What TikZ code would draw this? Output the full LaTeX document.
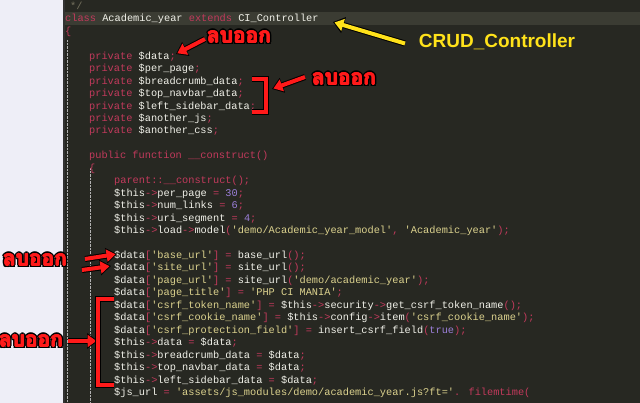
\documentclass[tikz,border=0pt]{standalone}
\usepackage{fontspec}
\usetikzlibrary{arrows.meta,calc}
\newfontfamily\codef{Liberation Mono}
\newfontfamily\thaif[Script=Thai]{Loma}
\newfontfamily\labf{Liberation Sans}
\definecolor{bgc}{HTML}{272822}
\definecolor{kw}{HTML}{C23A5C}
\definecolor{st}{HTML}{DCD28E}
\definecolor{nu}{HTML}{9B7FD9}
\definecolor{tx}{HTML}{F2F2EA}
\definecolor{cm}{HTML}{75715E}
\definecolor{annred}{HTML}{FF1A1A}
\definecolor{annyel}{HTML}{FFE21A}
\definecolor{panel}{HTML}{EEEEF7}
\definecolor{hl}{HTML}{3B3C33}
\newcommand\K[1]{\textcolor{kw}{#1}}
\newcommand\St[1]{\textcolor{st}{#1}}
\newcommand\Nm[1]{\textcolor{nu}{#1}}
\tikzset{
 code/.style={anchor=base west,inner sep=0pt,font=\codef\fontsize{10.3}{12}\selectfont,text=tx},
 tlab/.style={inner sep=0pt,font=\thaif\bfseries\fontsize{21}{22}\selectfont},
 redarr/.style={line width=4pt,annred,-{Triangle[length=9pt,width=12pt]}},
 blkarr/.style={line width=6pt,black,-{Triangle[length=11pt,width=15pt]}},
}
\newcommand\outlined[4]{% pos, name, colour, text
 \foreach \dx/\dy in {-2/0,2/0,0/-2,0/2,-1.5/-1.5,1.5/1.5,-1.5/1.5,1.5/-1.5}
   \node[tlab,text=black] at ($#1+(\dx,\dy)$) {#4};
 \foreach \dx/\dy in {-0.6/0,0.6/0,0/-0.6,0/0.6}
   \node[tlab,text=#3] at ($#1+(\dx,\dy)$) {#4};
 \node[tlab,text=#3] (#2) at #1 {#4};}
\begin{document}
\begin{tikzpicture}[x=1pt,y=-1pt]
\useasboundingbox (0,0) rectangle (640,403);
\fill[bgc] (0,0) rectangle (640,403);
\fill[panel] (0,0) rectangle (64,403);
\fill[black!80] (63,0) rectangle (65,403);
\fill[hl] (65,12) rectangle (640,25);
\draw[gray!60,densely dotted] (90,168) -- (90,403);
\draw[gray!60,densely dotted] (67,40) -- (67,403);
\def\L#1#2#3{\node[code] at (#1,{9.5+12.45*#2}) {#3};}
\L{70}{0}{\textcolor{cm}{*/}}
\L{65}{1}{\K{class} Academic\_year \K{extends} CI\_Controller}
\L{65}{2}{\K{\{}}
\L{89}{4}{\K{private} \$data\K{;}}
\L{89}{5}{\K{private} \$per\_page\K{;}}
\L{89}{6}{\K{private} \$breadcrumb\_data\K{;}}
\L{89}{7}{\K{private} \$top\_navbar\_data\K{;}}
\L{89}{8}{\K{private} \$left\_sidebar\_data\K{;}}
\L{89}{9}{\K{private} \$another\_js\K{;}}
\L{89}{10}{\K{private} \$another\_css\K{;}}
\L{89}{12}{\K{public function \_\_construct()}}
\L{89}{13}{\K{\{}}
\L{114}{14}{\K{parent::\_\_construct();}}
\L{114}{15}{\$this\K{->}per\_page \K{=} \Nm{30}\K{;}}
\L{114}{16}{\$this\K{->}num\_links \K{=} \Nm{6}\K{;}}
\L{114}{17}{\$this\K{->}uri\_segment \K{=} \Nm{4}\K{;}}
\L{114}{18}{\$this\K{->}load\K{->}model\K{(}\St{'demo/Academic\_year\_model'}\K{,} \St{'Academic\_year'}\K{);}}
\L{114}{20}{\$data\K{[}\St{'base\_url'}\K{]} \K{=} base\_url\K{();}}
\L{114}{21}{\$data\K{[}\St{'site\_url'}\K{]} \K{=} site\_url\K{();}}
\L{114}{22}{\$data\K{[}\St{'page\_url'}\K{]} \K{=} site\_url\K{(}\St{'demo/academic\_year'}\K{);}}
\L{114}{23}{\$data\K{[}\St{'page\_title'}\K{]} \K{=} \St{'PHP CI MANIA'}\K{;}}
\L{114}{24}{\$data\K{[}\St{'csrf\_token\_name'}\K{]} \K{=} \$this\K{->}security\K{->}get\_csrf\_token\_name\K{();}}
\L{114}{25}{\$data\K{[}\St{'csrf\_cookie\_name'}\K{]} \K{=} \$this\K{->}config\K{->}item\K{(}\St{'csrf\_cookie\_name'}\K{);}}
\L{114}{26}{\$data\K{[}\St{'csrf\_protection\_field'}\K{]} \K{=} insert\_csrf\_field\K{(}\Nm{true}\K{);}}
\L{114}{27}{\$this\K{->}data \K{=} \$data\K{;}}
\L{114}{28}{\$this\K{->}breadcrumb\_data \K{=} \$data\K{;}}
\L{114}{29}{\$this\K{->}top\_navbar\_data \K{=} \$data\K{;}}
\L{114}{30}{\$this\K{->}left\_sidebar\_data \K{=} \$data\K{;}}
\L{114}{31}{\$js\_url \K{=} \St{'assets/js\_modules/demo/academic\_year.js?ft='}\K{. filemtime(}}
% yellow annotation
\node[inner sep=0pt,font=\labf\bfseries\fontsize{19}{21}\selectfont,text=annyel] (crud) at (497,42) {CRUD\_Controller};
\coordinate (ys) at (405,43.5); \coordinate (ytip) at (333,22);
\draw[line width=6pt,black,-{Triangle[length=11pt,width=16pt]}] (ys) -- (ytip);
\draw[line width=4pt,annyel,-{Triangle[length=9pt,width=12pt]}] (ys) -- ($(ytip)!1.5pt!(ys)$);
% red labels
\outlined{(239,37)}{l1}{annred}{ลบออก}
\outlined{(344,79)}{l2}{annred}{ลบออก}
\outlined{(35,260)}{l3}{annred}{ลบออก}
\outlined{(31,341)}{l4}{annred}{ลบออก}
% arrows
\coordinate (a1s) at (205,39); \coordinate (a1e) at (176,54);
\draw[blkarr] (a1s) -- (a1e); \draw[redarr] (a1s) -- ($(a1e)!1.5pt!(a1s)$);
\coordinate (a2s) at (305,77); \coordinate (a2e) at (272,89);
\draw[blkarr] (a2s) -- (a2e); \draw[redarr] (a2s) -- ($(a2e)!1.5pt!(a2s)$);
\coordinate (a3s) at (85,259); \coordinate (a3e) at (117,254);
\draw[blkarr] (a3s) -- (a3e); \draw[redarr] (a3s) -- ($(a3e)!1.5pt!(a3s)$);
\coordinate (a4s) at (82,270); \coordinate (a4e) at (111,266);
\draw[blkarr] (a4s) -- (a4e); \draw[redarr] (a4s) -- ($(a4e)!1.5pt!(a4s)$);
\coordinate (a5s) at (68,341); \coordinate (a5e) at (98,341);
\draw[blkarr] (a5s) -- (a5e); \draw[redarr] (a5s) -- ($(a5e)!1.5pt!(a5s)$);
% brackets
\draw[black,line width=5.5pt] (252,79) -- (266,79) -- (266,112) -- (252,112);
\draw[annred,line width=3.5pt] (252,79) -- (266,79) -- (266,112) -- (252,112);
\draw[black,line width=5.5pt] (114,299) -- (98,299) -- (98,385) -- (114,385);
\draw[annred,line width=3.5pt] (114,299) -- (98,299) -- (98,385) -- (114,385);
\end{tikzpicture}
\end{document}
